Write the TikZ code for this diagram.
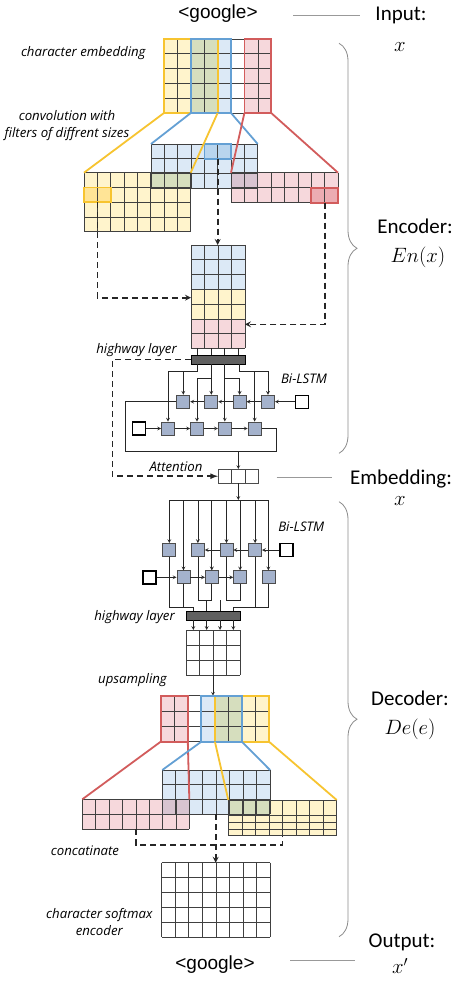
\documentclass[tikz,border=0pt]{standalone}
\usepackage{fontspec}
\setmainfont{Carlito}
\newfontfamily\notefont{Open Sans}
\newfontfamily\wordfont{Liberation Sans}
\usetikzlibrary{positioning,decorations.pathreplacing}

\definecolor{yelline}{RGB}{247,196,48}
\definecolor{yelfill}{RGB}{255,244,204}
\definecolor{yelhl}{RGB}{255,228,150}
\definecolor{bluline}{RGB}{100,160,212}
\definecolor{blufill}{RGB}{220,233,246}
\definecolor{bluhl}{RGB}{185,213,238}
\definecolor{redline}{RGB}{210,92,92}
\definecolor{redfill}{RGB}{246,216,220}
\definecolor{redhl}{RGB}{236,172,178}
\definecolor{olive}{RGB}{214,222,190}
\definecolor{mauve}{RGB}{216,196,208}
\definecolor{lstmc}{RGB}{164,178,204}
\definecolor{barc}{RGB}{96,96,96}

\tikzset{
  cell/.style={draw=black!75,line width=0.6pt},
  filt/.style={line width=1.8pt},
  lstm/.style={draw=black!70,fill=lstmc,line width=0.8pt,minimum size=13pt,inner sep=0pt},
  init/.style={draw=black,fill=white,line width=1.4pt,minimum size=13pt,inner sep=0pt},
  hwbar/.style={draw=black,fill=barc,line width=0.8pt,minimum width=54pt,minimum height=9pt,inner sep=0pt},
  flow/.style={->,line width=0.7pt,black!85},
  wire/.style={line width=0.7pt,black!85},
  skip/.style={line width=1.6pt,dash pattern=on 6pt off 4pt,black!85},
  note/.style={font=\notefont\itshape\fontsize{13.2}{17}\selectfont,inner sep=0pt,align=center},
  side/.style={font=\fontsize{21}{25}\selectfont,inner sep=0pt},
  word/.style={font=\wordfont\fontsize{19}{22}\selectfont,inner sep=0pt},
  pointer/.style={draw=black!40,line width=0.8pt},
  span/.style={draw=black!45,line width=0.8pt,decorate,decoration={brace,amplitude=18pt}},
}

\newcommand{\cellgrid}[6]{%
  \foreach \ci in {0,...,#3} {\draw[cell] ({#1+\ci*#5},#2) -- ++(0,{#4*#6});}
  \foreach \ri in {0,...,#4} {\draw[cell] (#1,{#2+\ri*#6}) -- ++({#3*#5},0);}
}

\begin{document}
\begin{tikzpicture}[>=stealth,x=1pt,y=-1pt]
\useasboundingbox (0,0) rectangle (454,981);
\fill[white] (0,0) rectangle (454,981);

\node[word] (gin) at (218,13.5) {<google>};
\node[note] at (83.3,52.7) {character embedding};
\node[note] at (67,125.3) {convolution with\\filters of diffrent sizes};

\fill[yelfill] (164,39) rectangle (190.8,113);
\fill[olive] (190.8,39) rectangle (217.6,113);
\fill[blufill] (217.6,39) rectangle (231,113);
\fill[redfill] (244.4,39) rectangle (271.2,113);
\cellgrid{164}{39}{8}{5}{13.4}{14.8}
\draw[filt,yelline] (164,39) rectangle (217.6,113);
\draw[filt,bluline] (190.8,39) rectangle (231,113);
\draw[filt,redline] (244.4,39) rectangle (271.2,113);

\fill[blufill] (151,144) rectangle (257.7,188);
\fill[yelfill] (84,172.7) rectangle (190.7,231.7);
\fill[redfill] (231,172.7) rectangle (338,202.7);
\fill[olive] (151,172.7) rectangle (190.7,188);
\fill[mauve] (231,172.7) rectangle (257.7,188);
\fill[bluhl] (204.4,144) rectangle (231,158.7);
\fill[yelhl] (84,187.5) rectangle (110.7,202.2);
\fill[redhl] (311.3,187.7) rectangle (338,202.7);
\cellgrid{151}{144}{8}{3}{13.34}{14.67}
\cellgrid{84}{172.7}{8}{4}{13.34}{14.75}
\cellgrid{231}{172.7}{8}{2}{13.38}{15}
\draw[filt,bluline] (204.4,144) rectangle (231,158.7);
\draw[filt,yelline] (84,187.5) rectangle (110.7,202.2);
\draw[filt,redline] (311.3,187.7) rectangle (338,202.7);
\draw[filt,yelline] (164,113) -- (84,172.7) (217.6,113) -- (190.7,172.7);
\draw[filt,bluline] (190.8,113) -- (151,144) (231,113) -- (257.7,144);
\draw[filt,redline] (244.4,113) -- (231,172.7) (271.2,113) -- (338,172.7);

\fill[blufill] (191,245) rectangle (245,289.3);
\fill[yelfill] (191,289.3) rectangle (245,318.8);
\fill[redfill] (191,318.8) rectangle (245,348.3);
\cellgrid{191}{245}{4}{7}{13.5}{14.76}

\coordinate (yhl) at (97.3,202.2);
\coordinate (bhl) at (217.7,158.7);
\coordinate (rhl) at (324.7,202.7);
\coordinate (stkw) at (191,297.7);
\coordinate (stkn) at (217.7,245);
\coordinate (stke) at (245,324.3);
\draw[skip,->] (yhl) |- (stkw);
\draw[skip,->] (bhl) -- (stkn);
\draw[skip,->] (rhl) |- (stke);

\node[hwbar] (ehw) at (218,359.5) {};
\foreach \x in {197.75,211.25,224.75,238.25} \draw[wire] (\x,348.3) -- (\x,355);
\node[note,anchor=east] at (177,350) {highway layer};
\node[note] at (304,379) {Bi-LSTM};

\foreach \i/\x in {1/183.3,2/211.3,3/239.6,4/268} \node[lstm] (et\i) at (\x,401.7) {};
\foreach \i/\x in {1/168,2/197,3/224.8,4/254.6} \node[lstm] (eb\i) at (\x,428.5) {};
\node[init] (etr) at (301.7,401.7) {};
\node[init] (ebl) at (139.2,428.5) {};
\foreach \a/\b in {etr/et4,et4/et3,et3/et2,et2/et1,ebl/eb1,eb1/eb2,eb2/eb3,eb3/eb4} \draw[flow] (\a) -- (\b);

\draw[flow] (ehw.south -| eb2) -- ++(0,7) -| (eb1.north);
\draw[flow] (et1 |- 0,371) -- (et1.north);
\draw[flow] (ehw.south -| et2) -- (et2.north);
\draw[flow] (et2 |- 0,378) -| (eb2.north);
\draw[flow] (ehw.south -| eb3) -- (eb3.north);
\draw[flow] (eb3 |- 0,378) -| (et3.north);
\draw[flow] (ehw.south -| et3) -- ++(0,7) -| (et4.north);
\draw[flow] (eb4 |- 0,371) -- (eb4.north);

\node[draw=black!70,line width=0.7pt,minimum width=40pt,minimum height=13.5pt,inner sep=0pt] (att) at (238.3,476.2) {};
\foreach \x in {231.6,245} \draw[cell] (\x,469.5) -- (\x,483);
\node[note] at (176,467) {Attention};

\draw[wire] (et1.west) -- (125,401.7) |- (276.7,451.7) |- (eb4.east);
\draw[flow] (att.north |- 0,451.7) -- (att.north);
\draw[skip,-latex] (ehw.west) -| (112.3,476.2) -- (att.west);

\node[side] (inp) at (401,15) {Input:};
\node[side] at (400,47) {$x$};
\draw[pointer] (293.3,15) -- (360,15);
\draw[span] (339,43.3) -- (339,453.3);
\node[side] at (415,226.7) {Encoder:};
\node[side] at (418,257) {$En(x)$};
\node[side] (emb) at (401,479) {Embedding:};
\node[side] at (400,501) {$x$};
\draw[pointer] (276.7,477) -- (331.7,477);
\draw[span] (339,501.7) -- (339,936.7);
\node[side] at (410,698.3) {Decoder:};
\node[side] at (410,729) {$De(e)$};
\node[side] (outp) at (402,942) {Output:};
\node[side] at (400,966) {$x'$};
\draw[pointer] (290,960) -- (355,960);

\foreach \i/\x in {1/169.3,2/197.9,3/226.5,4/255.1} \node[lstm] (dt\i) at (\x,550) {};
\foreach \i/\x in {1/183.5,2/211.8,3/240.1,4/268.4} \node[lstm] (db\i) at (\x,577.3) {};
\node[init] (dtr) at (286.5,550) {};
\node[init] (dbl) at (149.3,577.3) {};
\node[note] at (301.3,526.7) {Bi-LSTM};
\draw[flow] (att.south) -- (att.south |- 0,500);
\draw[wire] (dt1 |- 0,500) -- (db4 |- 0,500);
\foreach \n in {dt1,db1,dt2,db2,dt3,db3,dt4,db4} \draw[flow] (\n |- 0,500) -- (\n.north);
\foreach \a/\b in {dtr/dt4,dt4/dt3,dt3/dt2,dbl/db1,db1/db2,db2/db3} \draw[flow] (\a) -- (\b);

\node[hwbar,minimum height=8.5pt] (dhw) at (213,615.8) {};
\node[note,anchor=east] at (175,616.7) {highway layer};
\draw[wire] (dt1.south) |- (193.3,607) -- (dhw.north -| 193.3,0);
\draw[wire] (db1.south) -- (db1 |- 0,607);
\draw[wire] (dt2.south) |- (db2 |- 0,600) -- (db2.south);
\draw[wire] (206.7,600) -- (dhw.north -| 206.7,0);
\draw[wire] (dt3.south) |- (db3 |- 0,600) -- (db3.south);
\draw[wire] (220,600) -- (dhw.north -| 220,0);
\draw[wire] (db4.south) |- (233.3,607) -- (dhw.north -| 233.3,0);
\draw[wire] (dt4.south) -- (dt4 |- 0,607);
\foreach \x in {193.3,206.7,220,233.3} \draw[flow] (dhw.south -| \x,0) -- (\x,630);
\cellgrid{186}{630}{4}{3}{13.5}{15}
\draw[flow] (213,675) -- (213,695.7);
\node[note] at (132.5,680) {upsampling};

\fill[redfill] (160.7,695.7) rectangle (187.8,741.7);
\fill[blufill] (201.3,695.7) rectangle (214.9,741.7);
\fill[olive] (214.9,695.7) rectangle (241.9,741.7);
\fill[yelfill] (241.9,695.7) rectangle (269,741.7);
\cellgrid{160.7}{695.7}{8}{3}{13.54}{15.33}
\draw[filt,redline] (160.7,695.7) rectangle (187.8,741.7);
\draw[filt,yelline] (214.9,695.7) rectangle (269,741.7);
\draw[filt,bluline] (201.3,695.7) rectangle (241.9,741.7);

\fill[blufill] (162.3,770) rectangle (270,814);
\fill[redfill] (82.3,799.3) rectangle (189.3,829.3);
\fill[yelfill] (228.3,800) rectangle (336.7,835.7);
\fill[mauve] (162.3,799.3) rectangle (189.3,814);
\fill[olive] (228.3,800) rectangle (270,814);
\cellgrid{162.3}{770}{8}{3}{13.46}{14.67}
\cellgrid{82.3}{799.3}{8}{2}{13.375}{15}
\foreach \x in {0,...,8} \draw[cell] ({228.3+\x*13.55},800) -- ++(0,35.7);
\foreach \y in {800,815,822.3,829.3,835.7} \draw[cell] (228.3,\y) -- (336.7,\y);
\draw[filt,redline] (160.7,741.7) -- (82.3,799.3) (187.8,741.7) -- (189.3,799.3);
\draw[filt,bluline] (201.3,741.7) -- (162.3,770) (241.9,741.7) -- (270,770);
\draw[filt,yelline] (214.9,741.7) -- (228.3,800) (269,741.7) -- (336.7,800);

\draw[skip] (135.7,829.3) |- (282.3,845) -- (282.3,835.7);
\draw[skip,->] (215.7,814) -- (215.7,862.7);
\node[note] at (85,850.7) {concatinate};
\cellgrid{161.7}{862.7}{8}{5}{13.54}{14.92}
\node[note] at (99.3,921.7) {character softmax\\encoder};
\node[word] (gout) at (215,965) {<google>};
\end{tikzpicture}
\end{document}
